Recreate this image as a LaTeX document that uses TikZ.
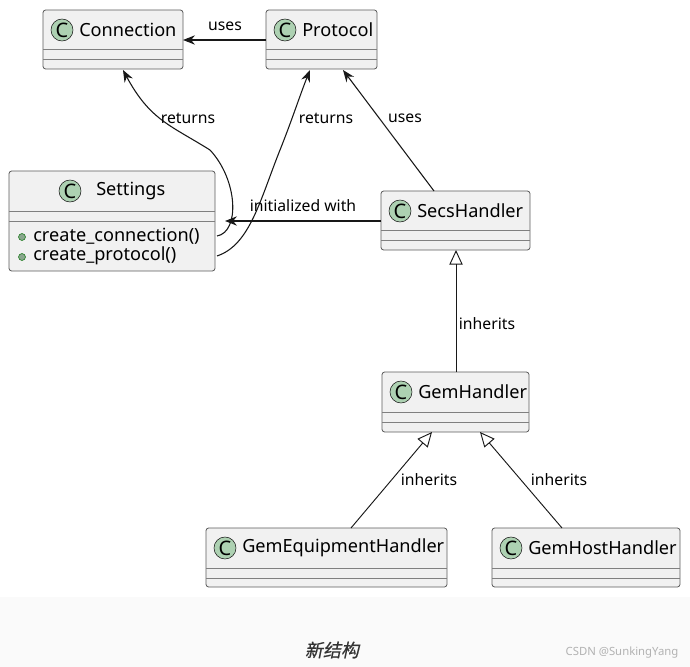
\documentclass[tikz,border=0pt]{standalone}
\usepackage{fontspec}
\setmainfont{Noto Sans}
\newfontfamily\cjk[FakeSlant=0.2,FakeBold=0.5]{Noto Sans CJK SC}
\usetikzlibrary{arrows.meta}
\definecolor{boxbg}{HTML}{F1F1F1}
\definecolor{cgreen}{HTML}{ADD1B2}
\definecolor{lineg}{HTML}{181818}
\begin{document}
\begin{tikzpicture}[x=0.75pt,y=-0.75pt,
  lbl/.style={font=\fontsize{11.8}{13}\selectfont,inner sep=0pt},
  cname/.style={font=\fontsize{13.6}{15}\selectfont,inner sep=0pt,anchor=west},
  cc/.style={circle,draw=lineg,fill=cgreen,minimum size=16.5pt,inner sep=0pt,font=\fontsize{15}{15}\bfseries\selectfont},
  box/.style={draw=lineg!70,fill=boxbg,rounded corners=2pt,line width=0.6pt},
  sep/.style={draw=lineg!55,line width=0.6pt},
  ar/.style={-{Stealth[length=9pt,width=7pt,inset=3pt]},line width=0.8pt,draw=lineg},
  inh/.style={-{Triangle[open,length=11pt,width=10pt]},line width=0.7pt,draw=lineg}]
\useasboundingbox (0,0) rectangle (690,667);
\fill[white] (0,0) rectangle (690,597);
\fill[black!2] (0,597) rectangle (690,667);
\newcommand{\umlcls}[7]{%
  \draw[box] (#2,#3) rectangle (#4,#5);
  \draw[sep] (#2,#6) -- (#4,#6);
  \draw[sep] (#2,#7) -- (#4,#7);
  \node[coordinate] (#1) at ({(#2+#4)/2},{(#3+#5)/2}) {};}
\umlcls{conn}{43}{10}{183}{69}{49}{59}
\node[cc] (cconn) at (62,30) {C};
\node[cname] (tconn) at (79,30) {Connection};
\umlcls{prot}{266}{10}{377}{69}{49}{59}
\node[cc] (cprot) at (285,30) {C};
\node[cname] (tprot) at (302,30) {Protocol};
\umlcls{sett}{9}{171}{215}{271}{211}{221}
\node[cc] (csett) at (70,191) {C};
\node[cname] (tsett) at (96,191) {Settings};
\fill[cgreen!80!black] (22,237) circle (2.6pt);
\fill[cgreen!80!black] (22,257) circle (2.6pt);
\draw[lineg!60!green,line width=0.4pt] (22,237) circle (2.6pt) (22,257) circle (2.6pt);
\node[cname] (m1) at (33,236) {create\_connection()};
\node[cname] (m2) at (33,256) {create\_protocol()};
\umlcls{secs}{381}{191}{530}{250}{230}{240}
\node[cc] (csecs) at (400,211) {C};
\node[cname] (tsecs) at (417,211) {SecsHandler};
\umlcls{gem}{382}{372}{529}{432}{412}{422}
\node[cc] (cgem) at (401,392) {C};
\node[cname] (tgem) at (418,392) {GemHandler};
\umlcls{geq}{206}{528}{447}{587}{568}{578}
\node[cc] (cgeq) at (225,548) {C};
\node[cname] (tgeq) at (242,548) {GemEquipmentHandler};
\umlcls{ghost}{492}{528}{680}{587}{568}{578}
\node[cc] (cghost) at (511,548) {C};
\node[cname] (tghost) at (528,548) {GemHostHandler};
\coordinate (pL) at (266,40); \coordinate (cR) at (183,40);
\draw[ar] (pL) -- (cR);
\node[lbl] (l1) at (225,26) {uses};
\coordinate (m1e) at (217,236); \coordinate (cB) at (123,70);
\draw[ar] (m1e) .. controls (240,232) and (238,180) .. (210,150) .. controls (170,125) and (150,120) .. (cB);
\node[lbl] (l2) at (188,118) {returns};
\coordinate (m2e) at (217,256); \coordinate (pB) at (310,70);
\draw[ar] (m2e) .. controls (250,245) and (260,200) .. (280,150) .. controls (292,120) and (300,95) .. (pB);
\node[lbl] (l3) at (326,118) {returns};
\coordinate (sL) at (381,221); \coordinate (stR) at (225,221);
\draw[ar] (sL) -- (stR);
\node[lbl] (l4) at (303,206) {initialized with};
\coordinate (sT) at (434,191); \coordinate (pB2) at (343,70);
\draw[ar] (sT) -- (pB2);
\node[lbl] (l5) at (405,118) {uses};
\coordinate (gT) at (456,372); \coordinate (sB) at (456,250);
\draw[inh] (gT) -- (sB);
\node[lbl] (l6) at (487,324) {inherits};
\coordinate (eqT) at (351,528); \coordinate (gB1) at (432,432);
\draw[inh] (eqT) -- (gB1);
\node[lbl] (l7) at (429,480) {inherits};
\coordinate (hT) at (562,528); \coordinate (gB2) at (480,432);
\draw[inh] (hT) -- (gB2);
\node[lbl] (l8) at (559,480) {inherits};
\node[inner sep=0pt,font=\cjk\fontsize{13.5}{14}\selectfont,text=black!80] (cap) at (332,650) {新结构};
\node[inner sep=0pt,font=\fontsize{8.5}{10}\selectfont,text=black!30] (wm) at (622,653) {CSDN @SunkingYang};
\end{tikzpicture}
\end{document}
